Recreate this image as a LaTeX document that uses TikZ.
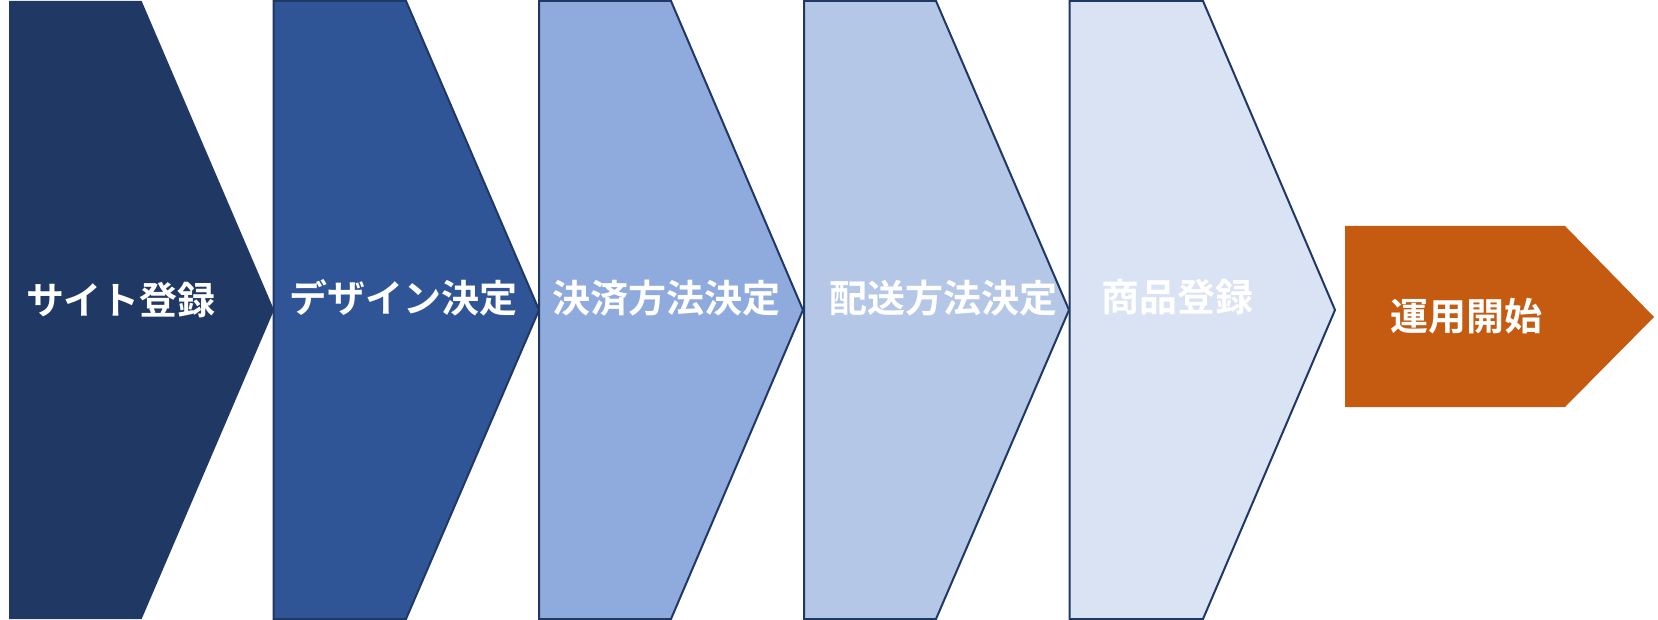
\documentclass[tikz,border=0pt]{standalone}
\usepackage{fontspec}
\newfontfamily\jp[BoldFont={Noto Sans CJK JP Bold}]{Noto Sans CJK JP}
\definecolor{navy}{HTML}{203864}
\definecolor{cA}{HTML}{203864}
\definecolor{cB}{HTML}{2F5597}
\definecolor{cC}{HTML}{8FAADC}
\definecolor{cD}{HTML}{B4C7E7}
\definecolor{cE}{HTML}{DAE3F3}
\definecolor{orng}{HTML}{C55A11}
\tikzset{
  chev/.style={draw=navy, line width=2pt, line join=miter},
  lbl/.style={text=white, font=\jp\bfseries\fontsize{38}{41}\selectfont, inner sep=0pt, anchor=center}
}
\begin{document}
\begin{tikzpicture}[x=1pt,y=-1pt]
\useasboundingbox (0,0) rectangle (1658,620);
\fill[white] (0,0) rectangle (1658,620);
% chevrons
\filldraw[chev, draw=cA, fill=cA] (10,2) -- (141,2) -- (273,310) -- (141,618) -- (10,618) -- cycle;
\filldraw[chev, fill=cB] (273.5,1) -- (406,1) -- (539,310) -- (406,619) -- (273.5,619) -- cycle;
\filldraw[chev, fill=cC] (539,1) -- (671,1) -- (803,310) -- (671,619) -- (539,619) -- cycle;
\filldraw[chev, fill=cD] (804,1) -- (936,1) -- (1069,310) -- (936,619) -- (804,619) -- cycle;
\filldraw[chev, fill=cE] (1069.5,1) -- (1203,1) -- (1335,310) -- (1203,619) -- (1069.5,619) -- cycle;
\fill[orng] (1345,226) -- (1565,226) -- (1654,317) -- (1565,407) -- (1345,407) -- cycle;
% labels
\node[lbl] (s1) at (121,300) {サイト登録};
\node[lbl] (s2) at (403,298) {デザイン決定};
\node[lbl] (s3) at (666,298) {決済方法決定};
\node[lbl] (s4) at (943,298) {配送方法決定};
\node[lbl] (s5) at (1177,297) {商品登録};
\node[lbl] (s6) at (1466,316) {運用開始};
\end{tikzpicture}
\end{document}
